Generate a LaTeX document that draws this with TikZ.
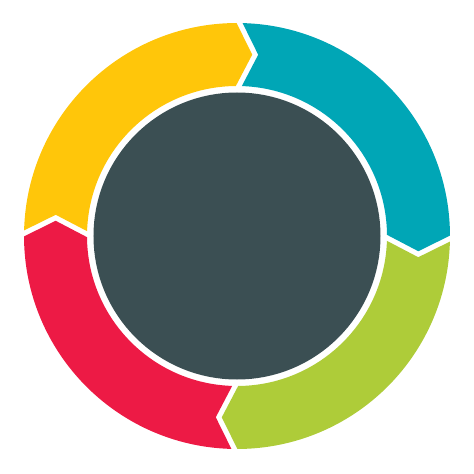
\documentclass[tikz,border=0pt]{standalone}
\usepackage{tikz}
\definecolor{cycyellow}{RGB}{255,198,10}
\definecolor{cycteal}{RGB}{0,166,182}
\definecolor{cycgreen}{RGB}{174,204,57}
\definecolor{cycred}{RGB}{237,26,69}
\definecolor{cycdark}{RGB}{59,79,83}
\begin{document}
\begin{tikzpicture}[x=1pt,y=1pt]
\useasboundingbox (-237,-238) rectangle (237,236);
\begin{scope}[rotate=-0.7]
\fill [cycyellow] (179.19:213) arc [start angle=179.19, end angle=90.81, radius=213] -- (13,181.5) -- (91.15:150) arc [start angle=91.15, end angle=178.85, radius=150] -- (-181.5,19) -- cycle;
\fill [cycteal, rotate=-90] (179.19:213) arc [start angle=179.19, end angle=90.81, radius=213] -- (13,181.5) -- (91.15:150) arc [start angle=91.15, end angle=178.85, radius=150] -- (-181.5,19) -- cycle;
\fill [cycgreen, rotate=-180] (179.19:213) arc [start angle=179.19, end angle=90.81, radius=213] -- (13,181.5) -- (91.15:150) arc [start angle=91.15, end angle=178.85, radius=150] -- (-181.5,19) -- cycle;
\fill [cycred, rotate=-270] (179.19:213) arc [start angle=179.19, end angle=90.81, radius=213] -- (13,181.5) -- (91.15:150) arc [start angle=91.15, end angle=178.85, radius=150] -- (-181.5,19) -- cycle;
\end{scope}
\fill [cycdark] (0,0) circle (143.5);
\end{tikzpicture}
\end{document}
